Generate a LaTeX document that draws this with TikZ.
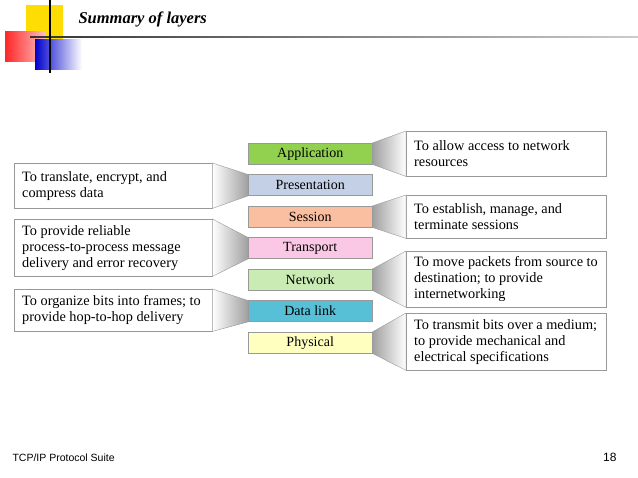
\documentclass[tikz,border=0pt]{standalone}
\usepackage{fontspec}
\setmainfont{Liberation Serif}
\setsansfont{Liberation Sans}
\begin{document}
\begin{tikzpicture}[x=1pt,y=-1pt,
  layer/.style={draw=gray!80, minimum width=124pt, minimum height=21pt, inner sep=0pt, font=\fontsize{14}{16}\selectfont},
  desc/.style={draw=gray!80, fill=white, text width=184pt, align=flush left, inner xsep=8pt, inner ysep=3pt, font=\fontsize{14.3}{16}\selectfont, execute at begin node={\hyphenpenalty=10000\relax}, anchor=north west}]
\useasboundingbox (0,0) rectangle (638,478);
\fill[white] (0,0) rectangle (638,478);
% logo
\fill[yellow!80!orange] (26,5) rectangle (63,40);
\shade[left color=red!85, right color=red!25] (5,32) rectangle (45,62);
\shade[left color=blue!80!black, right color=white] (35,40) rectangle (82,70);
\shade[left color=black!80, right color=gray!40] (30,36.5) rectangle (638,38);
\draw[line width=1.2pt] (50,0) -- (50,73);
\node[anchor=west, font=\bfseries\itshape\fontsize{16.5}{18}\selectfont] (title) at (75,19) {Summary of layers};
% layers
\node[layer, fill={rgb,255:red,146;green,208;blue,80}, anchor=north west] (app) at (248,143) {Application};
\node[layer, fill={rgb,255:red,196;green,208;blue,230}, anchor=north west] (pre) at (248,174.5) {Presentation};
\node[layer, fill={rgb,255:red,250;green,190;blue,160}, anchor=north west] (ses) at (248,206) {Session};
\node[layer, fill={rgb,255:red,250;green,200;blue,228}, anchor=north west] (tra) at (248,237.5) {Transport};
\node[layer, fill={rgb,255:red,202;green,236;blue,180}, anchor=north west] (net) at (248,269) {Network};
\node[layer, fill={rgb,255:red,88;green,192;blue,214}, anchor=north west] (dl) at (248,300.5) {Data link};
\node[layer, fill={rgb,255:red,255;green,255;blue,192}, anchor=north west] (phy) at (248,332) {Physical};
% descriptions
\node[desc, minimum height=45pt] (dapp) at (406,131) {To allow access to network resources};
\node[desc, minimum height=43pt] (dses) at (406,195) {To establish, manage, and terminate sessions};
\node[desc, minimum height=56pt] (dnet) at (406,251) {To move packets from source to destination; to provide internetworking};
\node[desc, minimum height=57pt] (dphy) at (406,313) {To transmit bits over a medium; to provide mechanical and electrical specifications};
\node[desc, minimum height=45pt, text width=182pt] (dpre) at (14,163) {To translate, encrypt, and compress data};
\node[desc, minimum height=57pt, text width=182pt] (dtra) at (14,219) {To provide reliable process-to-process message delivery and error recovery};
\node[desc, minimum height=42pt, text width=182pt] (ddl) at (14,289) {To organize bits into frames; to provide hop-to-hop delivery};
% connectors
\foreach \l/\d in {app/dapp, ses/dses, net/dnet, phy/dphy}{
  \shade[left color=gray!75, right color=white, draw=gray!80] (\l.north east) -- (\d.north west) -- (\d.south west) -- (\l.south east) -- cycle;
}
\foreach \l/\d in {pre/dpre, tra/dtra, dl/ddl}{
  \shade[left color=white, right color=gray!75, draw=gray!80] (\d.north east) -- (\l.north west) -- (\l.south west) -- (\d.south east) -- cycle;
}
\node[anchor=west, font=\sffamily\fontsize{10.5}{12}\selectfont] (foot) at (9,458) {TCP/IP Protocol Suite};
\node[anchor=east, font=\sffamily\fontsize{12}{14}\selectfont] (pg) at (620,457) {18};
\end{tikzpicture}
\end{document}
